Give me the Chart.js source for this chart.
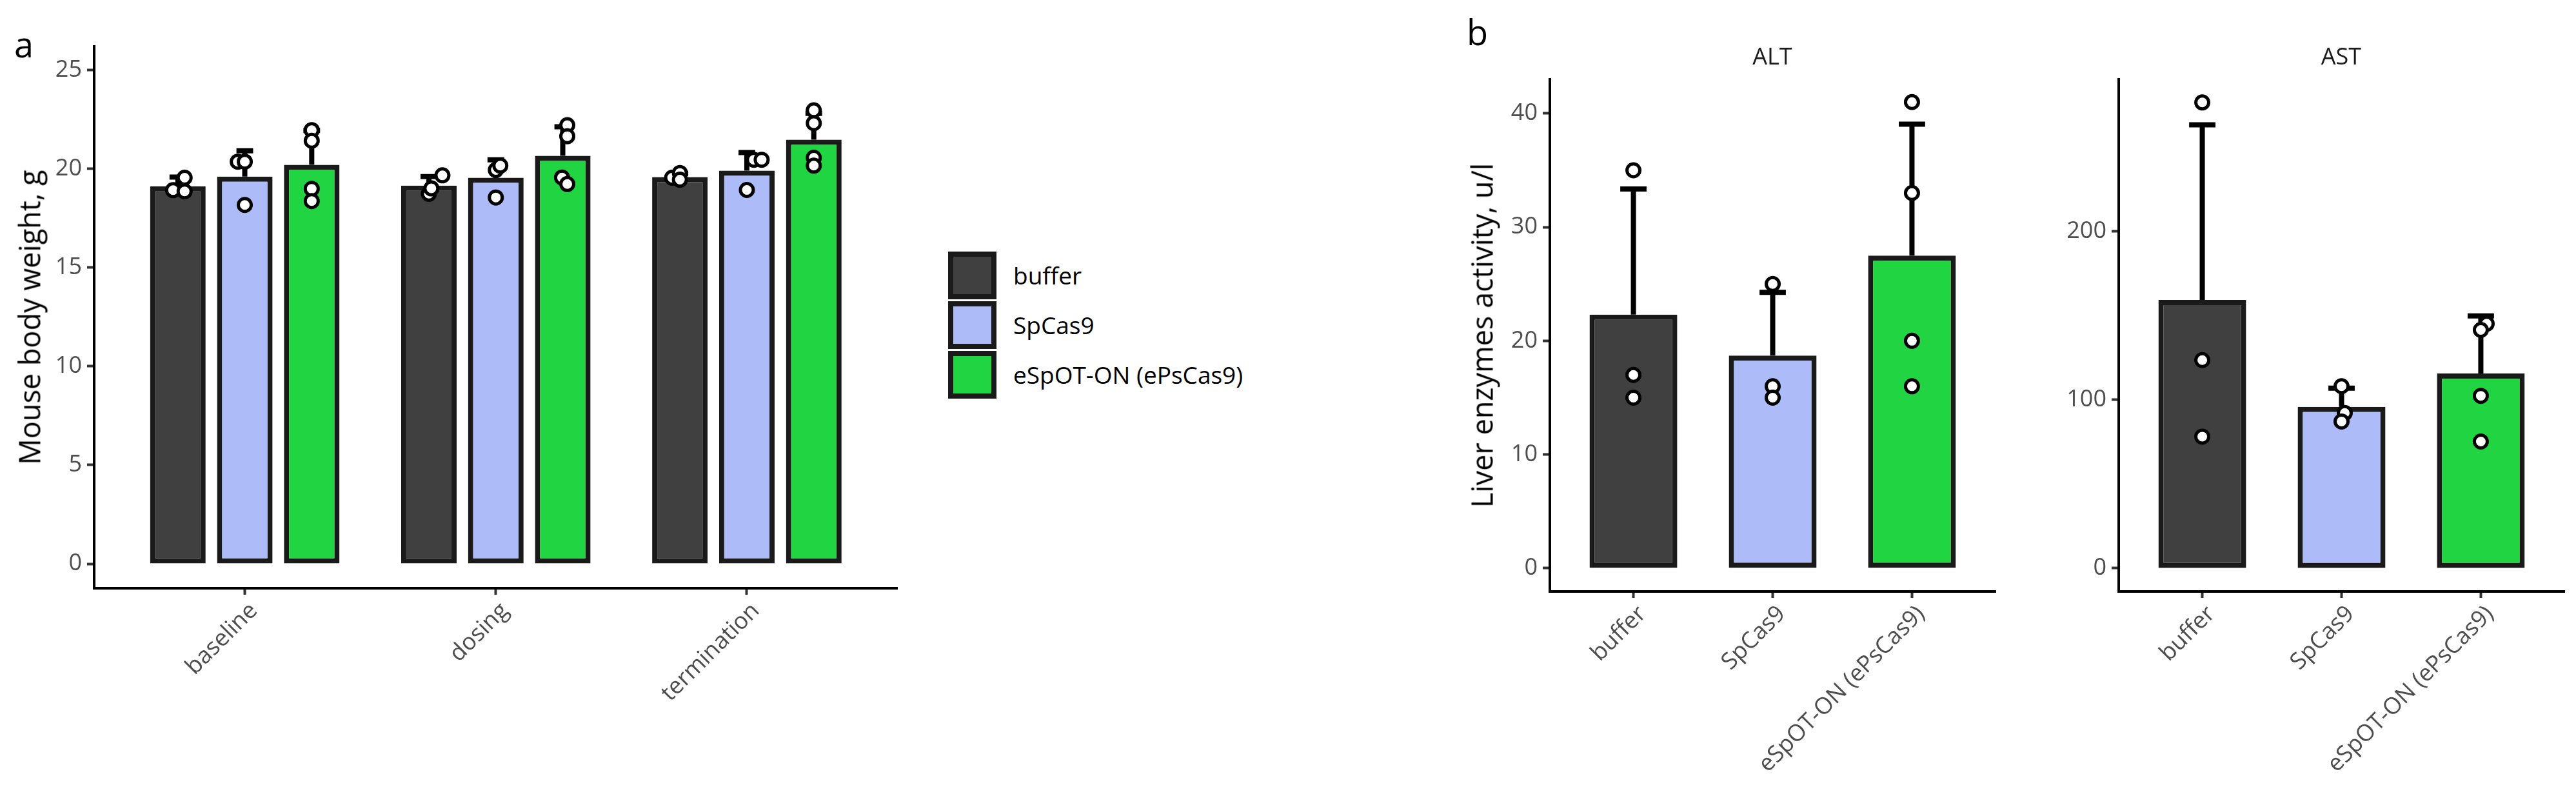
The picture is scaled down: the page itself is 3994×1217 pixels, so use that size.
<!DOCTYPE html>
<html>
<head>
<meta charset="utf-8">
<script src="https://cdn.jsdelivr.net/npm/chart.js@4.4.1/dist/chart.umd.min.js"></script>
<style>
  html, body { margin: 0; padding: 0; background: #fff; }
  body { width: 3994px; height: 1217px; position: relative; overflow: hidden; font-family: 'Open Sans', sans-serif; }
  canvas { position: absolute; top: 0; }
  .txt { position: absolute; white-space: nowrap; line-height: 1; color: #000; }
  .letter { font-size: 54px; }
  .ytitle { font-size: 45px; transform: translate(-50%, -50%) rotate(-90deg); }
  .strip { font-size: 36px; color: #1a1a1a; transform: translateX(-50%); }
  #legend { position: absolute; left: 1470px; top: 388px; }
  .row { display: flex; align-items: center; height: 77px; }
  .key { width: 75px; height: 74px; box-sizing: border-box; border: 8px solid #1a1a1a; }
  .row span { margin-left: 26px; font-size: 37px; line-height: 1; }
</style>
</head>
<body>
<canvas id="weight" width="1450" height="1217" style="left:0px"></canvas>
<canvas id="alt" width="890" height="1217" style="left:2250px"></canvas>
<canvas id="ast" width="854" height="1217" style="left:3140px"></canvas>

<div class="txt letter" style="left:22px; top:41px">a</div>
<div class="txt letter" style="left:2274px; top:22px">b</div>
<div class="txt ytitle" style="left:45px; top:492px">Mouse body weight, g</div>
<div class="txt ytitle" style="left:2297px; top:520px">Liver enzymes activity, u/l</div>
<div class="txt strip" style="left:2748px; top:69px">ALT</div>
<div class="txt strip" style="left:3630px; top:69px">AST</div>
<div id="legend"></div>

<script>
const timepoints = ['baseline', 'dosing', 'termination'];
const groups = ['buffer', 'SpCas9', 'eSpOT-ON (ePsCas9)'];
const groupColors = ['#404040', '#adbcf9', '#21d441'];

// body weight (g): bar = mean, whisker top = mean + SD
const bufferWeight = [19.11, 19.14, 19.57];
const spcas9Weight = [19.60, 19.54, 19.90];
const espotWeight = [20.19, 20.65, 21.47];
const bufferWeightUpper = [19.57, 19.60, 19.76];
const spcas9WeightUpper = [20.90, 20.45, 20.81];
const espotWeightUpper = [21.93, 22.12, 22.80];

// single animals per timepoint
const bufferWeightPts = [[18.91, 19.54, 18.85], [18.73, 19.00, 19.66], [19.54, 19.78, 19.44]];
const spcas9WeightPts = [[20.35, 20.35, 18.16], [19.93, 20.15, 18.54], [20.45, 20.45, 18.92]];
const espotWeightPts = [[21.95, 21.41, 18.98, 18.36], [22.20, 21.64, 19.55, 19.22], [22.95, 22.30, 20.55, 20.15]];
// horizontal jitter of the dots, in category units
const bufferWeightJit = [[-0.019, 0.027, 0.027], [0, 0.010, 0.054], [-0.031, 0, 0]];
const spcas9WeightJit = [[-0.028, 0, 0], [0, 0.018, 0], [0.028, 0.059, 0]];
const espotWeightJit = [[0, 0, 0, 0], [0.018, 0.018, -0.003, 0.018], [0, 0, 0, 0]];

// liver enzymes (u/l)
const altMean = [22.3, 18.7, 27.5];
const altUpper = [33.35, 24.26, 39.06];
const altPts = [[35, 17, 15], [25, 16, 15], [41, 33, 20, 16]];
const altJit = [[0, 0, 0], [0, 0, 0], [0, 0, 0, 0]];
const astMean = [159.2, 95.8, 115.6];
const astUpper = [263.1, 106.9, 149.7];
const astPts = [[276.4, 123.5, 78.1], [108.0, 92.1, 87.1], [145.1, 141.4, 102.3, 75.2]];
const astJit = [[0, 0, 0], [0, 0.023, 0], [0.042, 0, 0, 0]];

const weightTicks = [0, 5, 10, 15, 20, 25];
const altTicks = [0, 10, 20, 30, 40];
const astTicks = [0, 100, 200];

Chart.defaults.font.family = "'Open Sans', sans-serif";

// whiskers (mean -> mean + SD) with a cap 0.3 of bar width
const errorBars = {
  id: 'errorBars',
  beforeDatasetsDraw(chart) {
    const { ctx } = chart;
    const y = chart.scales.y;
    ctx.save();
    ctx.strokeStyle = '#000';
    ctx.lineWidth = 8;
    ctx.lineCap = 'butt';
    chart.data.datasets.forEach((ds, i) => {
      if (!ds.upper) return;
      chart.getDatasetMeta(i).data.forEach((bar, j) => {
        const top = y.getPixelForValue(ds.upper[j]);
        const base = y.getPixelForValue(ds.data[j].y);
        const half = bar.width * 0.15;
        ctx.beginPath();
        ctx.moveTo(bar.x, base);
        ctx.lineTo(bar.x, top);
        ctx.moveTo(bar.x - half, top);
        ctx.lineTo(bar.x + half, top);
        ctx.stroke();
      });
    });
    ctx.restore();
  }
};

function axisX(labels, height) {
  return {
    type: 'linear', min: 0.4, max: labels.length + 0.6, offset: false,
    afterBuildTicks: s => { s.ticks = labels.map((_, i) => ({ value: i + 1 })); },
    afterFit: s => { s.height = height; },
    ticks: { autoSkip: false, minRotation: 45, maxRotation: 45, padding: 4, labelOffset: 14,
             color: '#4d4d4d', font: { size: 36 }, callback: (v, i) => labels[i] },
    grid: { offset: false, drawOnChartArea: false, tickLength: 10, tickWidth: 4, tickColor: '#333333' },
    border: { color: '#000', width: 4 }
  };
}

function axisY(ticks, min, max, width) {
  return {
    min: min, max: max,
    afterBuildTicks: s => { s.ticks = ticks.map(v => ({ value: v })); },
    afterFit: s => { s.width = width; },
    ticks: { color: '#4d4d4d', font: { size: 36 }, padding: 8 },
    grid: { drawOnChartArea: false, tickLength: 11, tickWidth: 4, tickColor: '#333333' },
    border: { color: '#000', width: 4 }
  };
}

function dots(data, extra) {
  return Object.assign({
    type: 'scatter', order: 1, data: data,
    pointRadius: 10, pointHoverRadius: 10, borderWidth: 5,
    backgroundColor: '#fff', borderColor: '#000'
  }, extra || {});
}

function options(padTop, padRight, xAxis, yAxis) {
  return {
    responsive: false, animation: false, devicePixelRatio: 1,
    layout: { padding: { top: padTop, right: padRight, left: 0, bottom: 0 } },
    plugins: { legend: { display: false }, tooltip: { enabled: false } },
    scales: { x: xAxis, y: yAxis }
  };
}

// panel a
const weightMeans = [bufferWeight, spcas9Weight, espotWeight];
const weightUppers = [bufferWeightUpper, spcas9WeightUpper, espotWeightUpper];
const weightPts = [bufferWeightPts, spcas9WeightPts, espotWeightPts];
const weightJit = [bufferWeightJit, spcas9WeightJit, espotWeightJit];
const DODGE = 0.8 / groups.length;

new Chart(document.getElementById('weight'), {
  type: 'bar',
  data: {
    datasets: [
      ...groups.map((g, s) => ({
        type: 'bar', label: g, order: 2,
        data: weightMeans[s].map((v, i) => ({ x: i + 1, y: v })),
        upper: weightUppers[s],
        backgroundColor: groupColors[s], borderColor: '#1a1a1a', borderWidth: 8, borderSkipped: false,
        categoryPercentage: 0.8, barPercentage: 0.83
      })),
      ...groups.map((g, s) => dots(
        weightPts[s].flatMap((vals, i) => vals.map((v, k) => ({
          x: i + 1 + (s - 1) * DODGE + weightJit[s][i][k], y: v
        })))
      ))
    ]
  },
  options: options(71.5, 58.5, axisX(timepoints, 305), axisY(weightTicks, -1.24, 26.2, 146)),
  plugins: [errorBars]
});

// panel b
function enzymeChart(id, mean, upper, pts, jit, ticks, min, max, yWidth, padRight) {
  new Chart(document.getElementById(id), {
    type: 'bar',
    data: {
      datasets: [
        {
          type: 'bar', order: 2,
          data: mean.map((v, i) => ({ x: i + 1, y: v })),
          upper: upper,
          backgroundColor: groupColors, borderColor: '#1a1a1a', borderWidth: 8, borderSkipped: false,
          categoryPercentage: 1, barPercentage: 0.63
        },
        dots(pts.flatMap((vals, i) => vals.map((v, k) => ({ x: i + 1 + jit[i][k], y: v }))))
      ]
    },
    options: options(123, padRight, axisX(groups, 300), axisY(ticks, min, max, yWidth)),
    plugins: [errorBars]
  });
}
enzymeChart('alt', altMean, altUpper, altPts, altJit, altTicks, -2.05, 43.0, 153, 46);
enzymeChart('ast', astMean, astUpper, astPts, astJit, astTicks, -13.8, 290.1, 145, 18);

// legend
const legend = document.getElementById('legend');
groups.forEach((g, s) => {
  const row = document.createElement('div');
  row.className = 'row';
  const key = document.createElement('div');
  key.className = 'key';
  key.style.background = groupColors[s];
  const label = document.createElement('span');
  label.textContent = g;
  row.appendChild(key);
  row.appendChild(label);
  legend.appendChild(row);
});
</script>
</body>
</html>
